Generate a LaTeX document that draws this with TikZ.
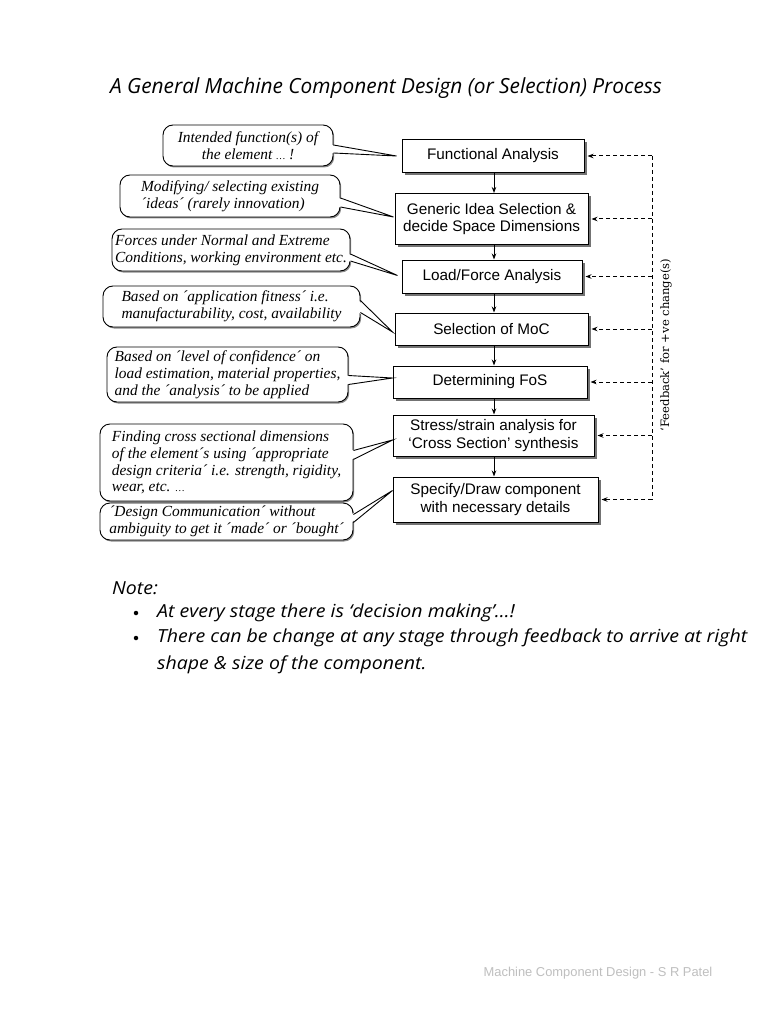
\documentclass[tikz,border=0pt]{standalone}
\usepackage{fontspec}
\usepackage{graphicx}
\usetikzlibrary{arrows.meta,shadows,calc}
\newfontfamily\sansf{Liberation Sans}
\newfontfamily\seriff{Liberation Serif}
\newfontfamily\dserif{DejaVu Serif}
\newfontfamily\handf{Open Sans}
\newcommand\pointer[4]{%
  \fill[white] ($(#1.east)+(-2,#2)$) -- (#4) -- ($(#1.east)+(-2,#3)$) -- cycle;
  \draw[balline] ($(#1.east)+(0,#2)$) -- (#4) -- ($(#1.east)+(0,#3)$);}
\newcommand\wide[1]{\scalebox{1.085}[1]{#1}}
\begin{document}
\begin{tikzpicture}[x=1pt,y=-1pt,
  box/.style={draw, line width=1pt, fill=white, align=center, inner sep=0pt,
    font=\sansf\fontsize{15.3}{17.5}\selectfont,
    drop shadow={shadow xshift=2.5pt, shadow yshift=-2.5pt, fill=black!55, opacity=1}},
  bal/.style={draw, line width=0.9pt, fill=white, rounded corners=10pt, inner sep=0pt,
    font=\seriff\itshape\fontsize{15.4}{16.8}\selectfont,
    drop shadow={shadow xshift=1.2pt, shadow yshift=-1.5pt, fill=black!45, opacity=1}},
  balline/.style={line width=0.9pt},
  flow/.style={line width=1pt, -{Stealth[length=6pt,width=4.5pt]}},
  fbline/.style={line width=1pt, dash pattern=on 4pt off 3pt},
  fb/.style={fbline, -{Stealth[length=6pt,width=4.5pt]}},
  hand/.style={anchor=west, inner sep=0pt, font=\handf\itshape\fontsize{18}{21}\selectfont},
]
\useasboundingbox (0,0) rectangle (768,1024);
\fill[white] (0,0) rectangle (768,1024);

% title
\node[font=\handf\itshape\fontsize{20}{24}\selectfont] (title) at (386,88)
  {\resizebox{552pt}{!}{A General Machine Component Design (or Selection) Process}};

% process boxes
\node[box, minimum width=182pt, minimum height=33pt] (fa) at (493,156) {Functional Analysis};
\node[box, minimum width=193pt, minimum height=51pt] (gi) at (491.5,219) {Generic Idea Selection \&\\decide Space Dimensions};
\node[box, minimum width=180pt, minimum height=33pt] (lf) at (492,276.5) {Load/Force Analysis};
\node[box, minimum width=193pt, minimum height=32pt] (moc) at (491.5,329) {Selection of MoC};
\node[box, minimum width=194pt, minimum height=32pt] (fos) at (490,382) {Determining FoS};
\node[box, minimum width=201pt, minimum height=41pt] (ss) at (493.5,435.5) {Stress/strain analysis for\\‘Cross Section’ synthesis};
\node[box, minimum width=205pt, minimum height=45pt] (sp) at (495.5,499.5) {Specify/Draw component\\with necessary details};

\coordinate (col) at (494,0);
\draw[flow] (fa.south -| col) -- (gi.north -| col);
\draw[flow] (gi.south -| col) -- (lf.north -| col);
\draw[flow] (lf.south -| col) -- (moc.north -| col);
\draw[flow] (moc.south -| col) -- (fos.north -| col);
\draw[flow] (fos.south -| col) -- (ss.north -| col);
\draw[flow] (ss.south -| col) -- (sp.north -| col);

% feedback
\coordinate (fbt) at (652,156);
\coordinate (fbb) at (fbt |- sp.east);
\draw[fbline] (fbt) -- (fbb);
\foreach \n in {fa,gi,lf,moc,fos,ss,sp}
  \draw[fb] (fbt |- \n.east) -- ([xshift=3pt]\n.east);
\node[font=\dserif\fontsize{11.6}{13}\selectfont, rotate=90] (fbl) at (666,345) {‘Feedback’ for +ve change(s)};

% callouts
\node[bal, minimum width=170pt, minimum height=41pt, align=center] (c1) at (248,145.5)
  {Intended function(s) of\\the element {\fontsize{10}{10}\selectfont…} !};
\node[bal, minimum width=220pt, minimum height=42pt, align=left] (c2) at (230,196)
  {Modifying/ selecting existing\\´ideas´ (rarely innovation)};
\node[bal, minimum width=238pt, minimum height=42pt, align=left] (c3) at (231,250)
  {Forces under Normal and Extreme\\Conditions, working environment etc.};
\node[bal, minimum width=257pt, minimum height=41pt, align=left] (c4) at (231.5,306.5)
  {Based on ´application fitness´ i.e.\\manufacturability, cost, availability};
\node[bal, minimum width=241pt, minimum height=55pt, align=left] (c5) at (227.5,374.5)
  {Based on ´level of confidence´ on\\load estimation, material properties,\\and the ´analysis´ to be applied};
\node[bal, minimum width=253pt, minimum height=77pt, align=left] (c6) at (226.5,462.5)
  {Finding cross sectional dimensions\\of the element´s using ´appropriate\\design criteria´ i.e. strength, rigidity,\\wear, etc. {\fontsize{10}{10}\selectfont…}};
\node[bal, minimum width=253pt, minimum height=37pt, align=left] (c7) at (226.5,521.5)
  {´Design Communication´ without\\ambiguity to get it ´made´ or ´bought´};

\pointer{c1}{-0.5}{7.5}{$(fa.west)+(-5,0)$}
\pointer{c2}{2}{11}{$(gi.west)+(-1,-2)$}
\pointer{c3}{4}{11}{$(lf.west)+(-4,-1)$}
\pointer{c4}{-6}{6}{$(moc.west)+(-2,3)$}
\pointer{c5}{1}{10}{$(fos.west)+(0,-4)$}
\pointer{c6}{-12}{-3}{$(ss.west)+(0,4.5)$}
\pointer{c7}{-7}{1}{$(sp.west)+(0,-9)$}

% notes
\node[hand] (note) at (112,588) {\wide{Note:}};
\node[circle, fill=black, inner sep=0pt, minimum size=4.5pt] (b1) at (136,613) {};
\node[circle, fill=black, inner sep=0pt, minimum size=4.5pt] (b2) at (136,638) {};
\node[hand] (n1) at (157,613) {\wide{At every stage there is ‘decision making’…!}};
\node[hand] (n2) at (157,638) {\wide{There can be change at any stage through feedback to arrive at right}};
\node[hand] (n3) at (157,665) {\wide{shape \& size of the component.}};

% footer
\node[font=\sansf\fontsize{12.9}{15}\selectfont, text=black!25] (foot) at (598,973) {Machine Component Design - S R Patel};
\end{tikzpicture}
\end{document}
